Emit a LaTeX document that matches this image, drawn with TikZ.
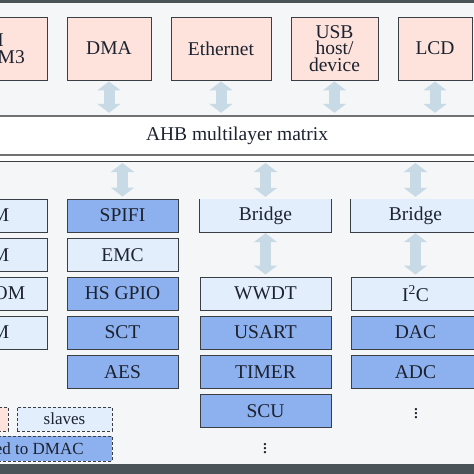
\documentclass[tikz,border=0pt]{standalone}
\usepackage{fontspec}
\setmainfont{Liberation Serif}
\usetikzlibrary{arrows.meta}
\definecolor{bgGray}{HTML}{F4F6F7}
\definecolor{bandGray}{HTML}{4A5358}
\definecolor{masterFill}{HTML}{FDE3DB}
\definecolor{slaveLight}{HTML}{E2EEFC}
\definecolor{slaveDark}{HTML}{8DB0EE}
\definecolor{arrowBlue}{HTML}{C8DAE5}
\definecolor{boxLine}{HTML}{3A3F46}
\definecolor{busLine}{HTML}{707274}
\definecolor{textDark}{HTML}{1C2230}
\tikzset{
  master/.style={draw=boxLine, fill=masterFill, line width=0.9pt, minimum height=63pt, inner sep=0pt, align=center},
  slave/.style={draw=boxLine, fill=slaveLight, line width=0.9pt, minimum height=33pt, inner sep=0pt},
  dmaslave/.style={slave, fill=slaveDark},
  bridgebox/.style={fill=slaveLight, minimum height=33pt, inner sep=0pt},
  legendbox/.style={draw=boxLine, dashed, dash pattern=on 3pt off 2pt, line width=0.9pt, minimum height=24pt, inner sep=0pt, font=\fontsize{17}{17}\selectfont},
  busarrow/.style={draw=arrowBlue, line width=11pt, {Triangle[width=23pt,length=9pt]}-{Triangle[width=23pt,length=9pt]}},
  busedge/.style={draw=busLine, line width=2pt}
}
\begin{document}
\begin{tikzpicture}[x=1pt, y=-1pt, font=\fontsize{19.5}{16.5}\selectfont, text=textDark]
  \useasboundingbox (0,0) rectangle (474,474);
  \clip (0,0) rectangle (474,474);
  \fill[bgGray] (0,0) rectangle (474,474);

  % masters
  \node[master, minimum width=131pt] (cortex) at (-18.5,48.5) {ARM\\Cortex-M3};
  \node[master, minimum width=84pt] (dma) at (109,48.5) {DMA};
  \node[master, minimum width=100pt] (eth) at (221,48.5) {Ethernet};
  \node[master, minimum width=87pt] (usb) at (334.5,48.5) {USB\\host/\\device};
  \node[master, minimum width=74pt] (lcd) at (435,48.5) {LCD};

  % AHB bus
  \node[fill=white, minimum width=500pt, minimum height=39pt, inner sep=0pt] (ahb) at (237,135.5) {AHB multilayer matrix};
  \coordinate (apbtop) at (0,161);
  \fill[white] (ahb.south west) rectangle (ahb.south east |- apbtop);
  \draw[busedge] (ahb.north west) -- (ahb.north east);
  \draw[busedge] (ahb.south west) -- (ahb.south east);
  \draw[draw=boxLine, line width=1pt] (apbtop) -- (apbtop -| ahb.east);

  \draw[busarrow, shorten <=1pt, shorten >=3pt] (dma.south) -- (dma.south |- ahb.north);
  \draw[busarrow, shorten <=1pt, shorten >=3pt] (eth.south) -- (eth.south |- ahb.north);
  \draw[busarrow, shorten <=1pt, shorten >=3pt] (usb.south) -- (usb.south |- ahb.north);
  \draw[busarrow, shorten <=1pt, shorten >=3pt] (lcd.south) -- (lcd.south |- ahb.north);

  % slaves, column 1
  \node[slave, minimum width=131pt] (sram) at (-18.5,215.5) {SRAM};
  \node[slave, minimum width=131pt] (sramb) at (-18.5,255) {SRAM};
  \node[slave, minimum width=131pt] (rom) at (-18.5,293.5) {Boot ROM};
  \node[slave, minimum width=131pt] (sramc) at (-18.5,332.5) {SRAM};

  % slaves, column 2
  \node[dmaslave, minimum width=111pt] (spifi) at (122.5,215.5) {SPIFI};
  \node[slave, minimum width=111pt] (emc) at (122.5,255) {EMC};
  \node[dmaslave, minimum width=111pt] (gpio) at (122.5,293.5) {HS GPIO};
  \node[dmaslave, minimum width=111pt] (sct) at (122.5,332.5) {SCT};
  \node[dmaslave, minimum width=111pt] (aes) at (122.5,372) {AES};

  % slaves, column 3
  \node[bridgebox, minimum width=131pt] (bridgea) at (265.5,215.5) {Bridge};
  \draw[draw=boxLine, line width=0.9pt] (bridgea.north west) -- (bridgea.south west) -- (bridgea.south east) -- (bridgea.north east);
  \node[slave, minimum width=131pt] (wwdt) at (265.5,293.5) {WWDT};
  \node[dmaslave, minimum width=131pt] (usart) at (265.5,332.5) {USART};
  \node[dmaslave, minimum width=131pt] (timer) at (265.5,372) {TIMER};
  \node[dmaslave, minimum width=131pt] (scu) at (265.5,411) {SCU};
  \node (dotsa) at (265,446) {$\vdots$};

  % slaves, column 4
  \node[bridgebox, minimum width=129pt] (bridgeb) at (415.5,215.5) {Bridge};
  \draw[draw=boxLine, line width=0.9pt] (bridgeb.north west) -- (bridgeb.south west) -- (bridgeb.south east) -- (bridgeb.north east);
  \node[slave, minimum width=129pt] (iic) at (415.5,293.5) {I\textsuperscript{2}C};
  \node[dmaslave, minimum width=129pt] (dac) at (415.5,332.5) {DAC};
  \node[dmaslave, minimum width=129pt] (adc) at (415.5,372) {ADC};
  \node (dotsb) at (416,411) {$\vdots$};

  \draw[busarrow, shorten <=2pt, shorten >=2pt] (spifi.north |- apbtop) -- (spifi.north);
  \draw[busarrow, shorten <=2pt, shorten >=2pt] (bridgea.north |- apbtop) -- (bridgea.north);
  \draw[busarrow, shorten <=2pt, shorten >=2pt] (bridgeb.north |- apbtop) -- (bridgeb.north);
  \draw[busarrow, shorten <=1pt, shorten >=2pt] (bridgea.south) -- (wwdt.north);
  \draw[busarrow, shorten <=1pt, shorten >=2pt] (bridgeb.south) -- (iic.north);

  % legend
  \node[legendbox, fill=masterFill, minimum width=100pt] (legmaster) at (-42,419) {masters};
  \node[legendbox, fill=slaveLight, minimum width=95pt] (legslave) at (64.5,419) {slaves};
  \node[legendbox, fill=slaveDark, minimum width=244pt, minimum height=25pt] (legdmac) at (-10,448.5) {slaves connected to DMAC};

  \fill[bandGray] (0,0) rectangle (474,3);
  \fill[bandGray] (0,464) rectangle (474,474);
\end{tikzpicture}
\end{document}
